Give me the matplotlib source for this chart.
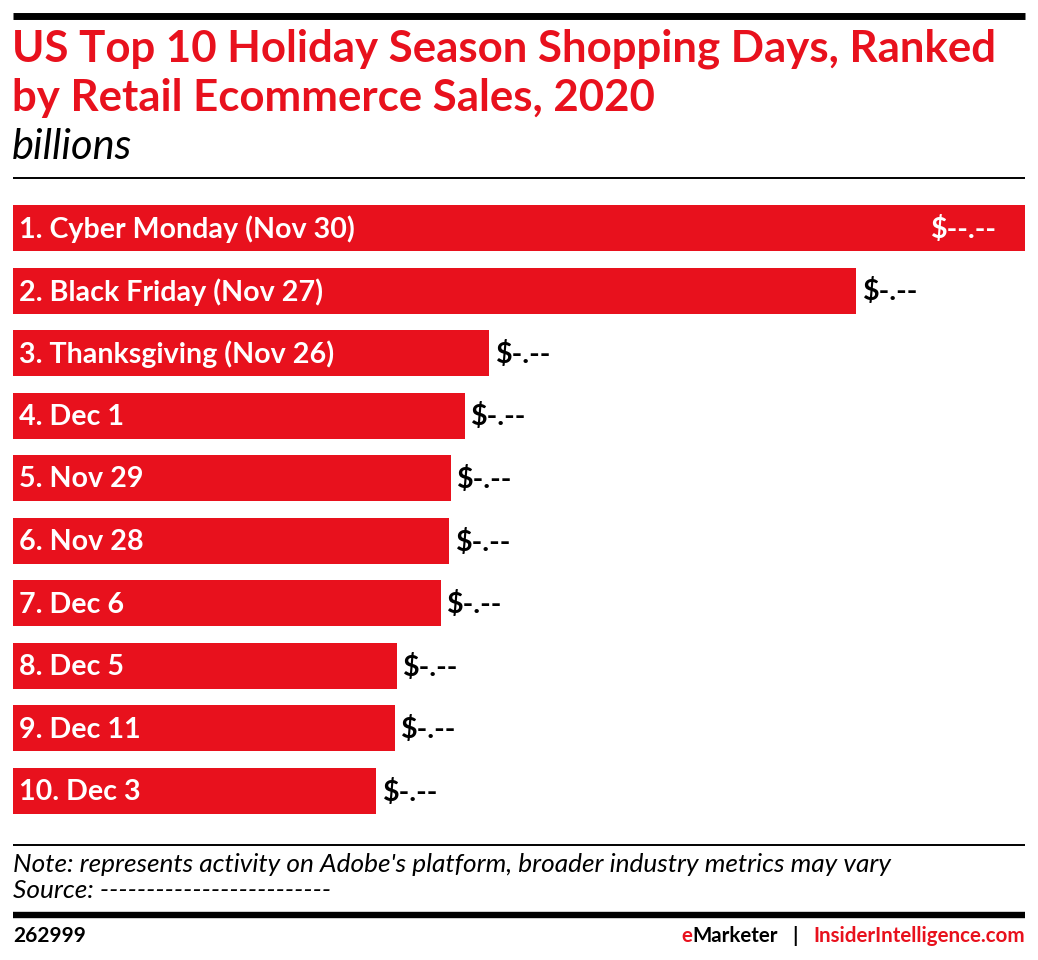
import matplotlib
matplotlib.use("Agg")
import matplotlib.pyplot as plt
from matplotlib.lines import Line2D

categories = ["1. Cyber Monday (Nov 30)", "2. Black Friday (Nov 27)", "3. Thanksgiving (Nov 26)",
              "4. Dec 1", "5. Nov 29", "6. Nov 28", "7. Dec 6", "8. Dec 5", "9. Dec 11", "10. Dec 3"]
values = [10.84, 9.03, 5.10, 4.84, 4.69, 4.67, 4.58, 4.11, 4.09, 3.89]
value_labels = ["$--.--", "$-.--", "$-.--", "$-.--", "$-.--", "$-.--", "$-.--", "$-.--", "$-.--", "$-.--"]

RED = "#E8111D"
W, H = 1038, 960
fig = plt.figure(figsize=(W / 100, H / 100), dpi=100)
FONT = "Lato"

def fx(px):
    return px / W

def fy(py):
    return 1 - py / H

# axes for bars
top_px, bot_px = 196.7, 822.3
ax = fig.add_axes([fx(13), fy(bot_px), fx(1025 - 13), (bot_px - top_px) / H])
ax.set_xlim(0, values[0])
ax.set_ylim(len(values) - 0.5, -0.5)
ax.axis("off")
ypos = list(range(len(values)))
ax.barh(ypos, values, height=0.735, color=RED, edgecolor="none")
for i, (c, v, vl) in enumerate(zip(categories, values, value_labels)):
    ax.text(0.06, i + 0.02, c, color="white", fontsize=20.6, fontweight="bold", family=FONT,
            va="center", ha="left")
    if i == 0:
        ax.text(v - 0.3, i + 0.02, vl, color="white", fontsize=20.6, fontweight="bold", family=FONT,
                va="center", ha="right")
    else:
        ax.text(v + 0.07, i + 0.02, vl, color="black", fontsize=20.6, fontweight="bold", family=FONT,
                va="center", ha="left")

# lines
def hline(py, lw):
    fig.add_artist(Line2D([fx(13), fx(1025)], [fy(py), fy(py)], color="black", lw=lw,
                          solid_capstyle="butt", transform=fig.transFigure))

hline(15.5, 5.0)
hline(178, 1.4)
hline(844.5, 1.4)
hline(915, 4.6)

# title
fig.text(fx(12), fy(49), "US Top 10 Holiday Season Shopping Days, Ranked", color=RED,
         fontsize=31.5, fontweight="bold", family=FONT, va="center", ha="left")
fig.text(fx(12), fy(98), "by Retail Ecommerce Sales, 2020", color=RED,
         fontsize=31.5, fontweight="bold", family=FONT, va="center", ha="left")
fig.text(fx(12), fy(147), "billions", color="black", fontsize=30, style="italic",
         family=FONT, va="center", ha="left")

# notes
fig.text(fx(13), fy(865), "Note: represents activity on Adobe's platform, broader industry metrics may vary",
         color="black", fontsize=18.9, style="italic", family=FONT, va="center", ha="left")
fig.text(fx(13), fy(891), "Source: -------------------------",
         color="black", fontsize=18.9, style="italic", family=FONT, va="center", ha="left")

# footer
fig.text(fx(13), fy(936), "262999", color="black", fontsize=15, fontweight="bold",
         family=FONT, va="center", ha="left")

renderer = fig.canvas.get_renderer()
x_right = 1025
pieces = [("InsiderIntelligence.com", RED), ("   |   ", "black"), ("Marketer", "black"), ("e", RED)]
for txt, col in pieces:
    t = fig.text(fx(x_right), fy(936), txt, color=col, fontsize=14.8, fontweight="bold",
                 family=FONT, va="center", ha="right")
    bb = t.get_window_extent(renderer=renderer)
    x_right -= bb.width

fig.savefig("out.png", dpi=100, facecolor="white")
